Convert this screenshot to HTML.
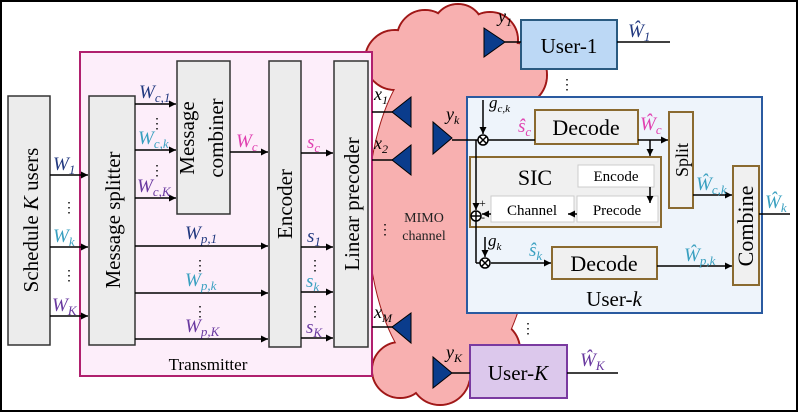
<!DOCTYPE html>
<html><head><meta charset="utf-8"><style>
html,body{margin:0;padding:0;background:#fff}
svg{display:block;font-family:"Liberation Serif","DejaVu Serif","Noto Serif CJK SC",serif}
svg text{font-family:"Liberation Serif","DejaVu Serif","Noto Serif CJK SC",serif}
.i{font-style:italic}
</style></head><body>
<svg width="798" height="414" viewBox="0 0 798 414" xmlns="http://www.w3.org/2000/svg" font-family="'Liberation Serif', 'DejaVu Serif', 'Noto Serif CJK SC', serif">
<defs>
<marker id="a" viewBox="0 0 10 10" refX="10" refY="5" markerWidth="7" markerHeight="7" orient="auto" markerUnits="userSpaceOnUse"><path d="M0,0L10,5L0,10z" fill="#000"/></marker>
</defs>
<rect x="1" y="1" width="796" height="410" fill="#fff" stroke="#000" stroke-width="2"/>

<g fill="#f8b0b0" stroke="#a01818" stroke-width="2">
<ellipse cx="450" cy="215" rx="82" ry="170"/>
<circle cx="395" cy="60" r="30"/><circle cx="425" cy="38" r="28"/><circle cx="458" cy="30" r="26"/><circle cx="490" cy="40" r="28"/><circle cx="515" cy="75" r="32"/>
<circle cx="400" cy="370" r="28"/><circle cx="440" cy="375" r="30"/><circle cx="490" cy="350" r="30"/>
</g>
<g fill="#f8b0b0">
<ellipse cx="450" cy="215" rx="82" ry="170"/>
<circle cx="395" cy="60" r="29"/><circle cx="425" cy="38" r="27"/><circle cx="458" cy="30" r="25"/><circle cx="490" cy="40" r="27"/><circle cx="515" cy="75" r="31"/>
<circle cx="400" cy="370" r="27"/><circle cx="440" cy="375" r="29"/><circle cx="490" cy="350" r="29"/>
</g>
<text x="424" y="222" font-size="14" text-anchor="middle" fill="#222">MIMO</text>
<text x="424" y="240" font-size="14" text-anchor="middle" fill="#222">channel</text>
<text x="378" y="234" font-size="14">⋮</text>

<rect x="80" y="52" width="292" height="324" fill="#fdeefa" stroke="#b0206e" stroke-width="2"/>
<text x="208" y="370" font-size="17" text-anchor="middle">Transmitter</text>
<g fill="#ececec" stroke="#333" stroke-width="1.5">
<rect x="8" y="96" width="42" height="249"/>
<rect x="89" y="96" width="46" height="249"/>
<rect x="177" y="61" width="53" height="153"/>
<rect x="269" y="61" width="32" height="286"/>
<rect x="334" y="61" width="34" height="286"/>
</g>
<g font-size="21" text-anchor="middle">
<text transform="translate(38,220) rotate(-90)">Schedule <tspan class="i">K</tspan> users</text>
<text transform="translate(120,220) rotate(-90)">Message splitter</text>
<text transform="translate(194,138) rotate(-90)">Message</text>
<text transform="translate(223,138) rotate(-90)">combiner</text>
<text transform="translate(292,204) rotate(-90)">Encoder</text>
<text transform="translate(359,204) rotate(-90)">Linear precoder</text>
</g>
<g stroke="#000" stroke-width="1.5" marker-end="url(#a)">
<line x1="50" y1="175" x2="88" y2="175"/><line x1="50" y1="247" x2="88" y2="247"/><line x1="50" y1="316" x2="88" y2="316"/>
<line x1="135" y1="104" x2="176" y2="104"/><line x1="135" y1="150" x2="176" y2="150"/><line x1="135" y1="198" x2="176" y2="198"/>
<line x1="230" y1="152" x2="268" y2="152"/><line x1="301" y1="153" x2="333" y2="153"/>
<line x1="135" y1="246" x2="268" y2="246"/><line x1="135" y1="293" x2="268" y2="293"/><line x1="135" y1="339" x2="268" y2="339"/>
<line x1="301" y1="247" x2="333" y2="247"/><line x1="301" y1="292" x2="333" y2="292"/><line x1="301" y1="338" x2="333" y2="338"/>
</g>
<g font-size="19" class="i">
<text x="53" y="170" fill="#233a80">W<tspan font-size="13" dy="4">1</tspan></text>
<text x="53" y="242" fill="#3aa0c0">W<tspan font-size="13" dy="4">k</tspan></text>
<text x="52" y="311" fill="#6a3aa0">W<tspan font-size="13" dy="4">K</tspan></text>
<text x="139" y="98" fill="#233a80">W<tspan font-size="13" dy="4">c,1</tspan></text>
<text x="138" y="144" fill="#3aa0c0">W<tspan font-size="13" dy="4">c,k</tspan></text>
<text x="137" y="192" fill="#6a3aa0">W<tspan font-size="13" dy="4">c,K</tspan></text>
<text x="236" y="147" fill="#e040b0">W<tspan font-size="13" dy="4">c</tspan></text>
<text x="307" y="148" fill="#e040b0">s<tspan font-size="13" dy="4">c</tspan></text>
<text x="185" y="239" fill="#233a80">W<tspan font-size="13" dy="4">p,1</tspan></text>
<text x="185" y="286" fill="#3aa0c0">W<tspan font-size="13" dy="4">p,k</tspan></text>
<text x="185" y="332" fill="#6a3aa0">W<tspan font-size="13" dy="4">p,K</tspan></text>
<text x="307" y="242" fill="#233a80">s<tspan font-size="13" dy="4">1</tspan></text>
<text x="306" y="287" fill="#3aa0c0">s<tspan font-size="13" dy="4">k</tspan></text>
<text x="306" y="333" fill="#6a3aa0">s<tspan font-size="13" dy="4">K</tspan></text>
</g>
<g font-size="14">
<text x="62" y="212">⋮</text><text x="62" y="280">⋮</text>
<text x="150" y="128">⋮</text><text x="150" y="175">⋮</text>
<text x="193" y="270">⋮</text><text x="193" y="316">⋮</text>
<text x="308" y="270">⋮</text><text x="308" y="316">⋮</text>
</g>

<g stroke="#000" stroke-width="1.5"><line x1="372" y1="112" x2="393" y2="112"/><line x1="372" y1="160" x2="393" y2="160"/><line x1="372" y1="327" x2="393" y2="327"/></g>
<g fill="#0a3c8c" stroke="#000" stroke-width="1">
<path d="M392,112L411,97L411,127z"/><path d="M392,160L411,145L411,175z"/><path d="M392,327L411,313L411,343z"/>
</g>
<g font-size="18" class="i"><text x="374" y="100">x<tspan font-size="12" dy="4">1</tspan></text><text x="374" y="149">x<tspan font-size="12" dy="4">2</tspan></text><text x="374" y="318">x<tspan font-size="12" dy="4">M</tspan></text></g>

<rect x="521" y="20" width="96" height="49" fill="#bcd8f5" stroke="#2a5a80" stroke-width="2"/>
<text x="569" y="53" font-size="21" text-anchor="middle">User-1</text>
<line x1="505" y1="42" x2="521" y2="42" stroke="#000" stroke-width="1.5"/>
<path d="M505,42L484,28L484,57z" fill="#0a3c8c" stroke="#000"/>
<text x="498" y="22" font-size="18" class="i">y<tspan font-size="12" dy="4">1</tspan></text>
<line x1="617" y1="42" x2="670" y2="42" stroke="#000" stroke-width="1.5"/>
<text x="628" y="37" font-size="19" class="i" fill="#233a80">Ŵ<tspan font-size="13" dy="4">1</tspan></text>
<text x="560" y="89" font-size="14">⋮</text>

<rect x="467" y="97" width="295" height="216" fill="#eef4fb" stroke="#2a5aa0" stroke-width="2"/>
<text x="614" y="306" font-size="21" text-anchor="middle">User-<tspan class="i">k</tspan></text>
<path d="M452,138L433,122L433,154z" fill="#0a3c8c" stroke="#000"/>
<text x="446" y="120" font-size="18" class="i">y<tspan font-size="12" dy="4">k</tspan></text>
<rect x="470" y="157" width="191" height="70" fill="#f0f0f0" stroke="#8a6a30" stroke-width="2"/>
<text x="535" y="185" font-size="22" text-anchor="middle">SIC</text>
<g fill="#fff" stroke="#ccc" stroke-width="1">
<rect x="578" y="165" width="76" height="22"/><rect x="577" y="196" width="81" height="26"/><rect x="491" y="196" width="83" height="26"/>
</g>
<g font-size="15" text-anchor="middle"><text x="616" y="181">Encode</text><text x="617" y="215">Precode</text><text x="532" y="215">Channel</text></g>
<g fill="#f0f0f0" stroke="#8a6a30" stroke-width="2">
<rect x="535" y="110" width="103" height="34"/><rect x="552" y="247" width="105" height="32"/>
<rect x="669" y="112" width="24" height="96"/><rect x="733" y="166" width="26" height="119"/>
</g>
<g font-size="22" text-anchor="middle">
<text x="586" y="135">Decode</text><text x="604" y="271">Decode</text>
<text transform="translate(688,160) rotate(-90)" font-size="18">Split</text>
<text transform="translate(753,226) rotate(-90)">Combine</text>
</g>
<g stroke="#000" stroke-width="1.5" fill="none">
<line x1="452" y1="140" x2="478" y2="140"/>
<line x1="488" y1="140" x2="535" y2="140"/>
<line x1="476" y1="140" x2="476" y2="210" marker-end="url(#a)"/>
<line x1="476" y1="221" x2="476" y2="263"/>
<line x1="476" y1="263" x2="480" y2="263"/>
<line x1="491" y1="263" x2="551" y2="263" marker-end="url(#a)"/>
<line x1="483" y1="100" x2="483" y2="134" marker-end="url(#a)"/>
<line x1="485" y1="237" x2="485" y2="257" marker-end="url(#a)"/>
<line x1="638" y1="140" x2="668" y2="140" marker-end="url(#a)"/>
<line x1="650" y1="140" x2="650" y2="156" marker-end="url(#a)"/>
<line x1="650" y1="187" x2="650" y2="203" marker-end="url(#a)"/>
<line x1="577" y1="214" x2="568" y2="214" marker-end="url(#a)"/>
<line x1="491" y1="214" x2="482" y2="214" marker-end="url(#a)"/>
<line x1="693" y1="195" x2="732" y2="195" marker-end="url(#a)"/>
<line x1="657" y1="266" x2="732" y2="266" marker-end="url(#a)"/>
<line x1="759" y1="214" x2="790" y2="214"/>
<circle cx="483" cy="140" r="5" fill="#fff"/><path d="M479.5,136.5l7,7M486.5,136.5l-7,7"/>
<circle cx="485" cy="263" r="5" fill="#fff"/><path d="M481.5,259.5l7,7M488.5,259.5l-7,7"/>
<circle cx="476" cy="216" r="5" fill="#fff"/><path d="M471,216h10M476,211v10"/>
</g>
<text x="479" y="207" font-size="12">+</text><text x="481" y="221" font-size="12">-</text>
<g font-size="17" class="i">
<text x="489" y="108">g<tspan font-size="11" dy="4">c,k</tspan></text>
<text x="488" y="246">g<tspan font-size="11" dy="4">k</tspan></text>
</g>
<g font-size="19" class="i">
<text x="518" y="132" fill="#e040b0">ŝ<tspan font-size="13" dy="4">c</tspan></text>
<text x="640" y="130" fill="#e040b0">Ŵ<tspan font-size="13" dy="4">c</tspan></text>
<text x="696" y="190" fill="#3aa0c0">Ŵ<tspan font-size="13" dy="4">c,k</tspan></text>
<text x="529" y="256" fill="#3aa0c0">ŝ<tspan font-size="13" dy="4">k</tspan></text>
<text x="684" y="261" fill="#3aa0c0">Ŵ<tspan font-size="13" dy="4">p,k</tspan></text>
<text x="765" y="208" fill="#3aa0c0">Ŵ<tspan font-size="13" dy="4">k</tspan></text>
</g>

<text x="521" y="333" font-size="14">⋮</text>
<rect x="470" y="345" width="97" height="53" fill="#dcc8ec" stroke="#7a3aa0" stroke-width="2"/>
<text x="518" y="380" font-size="21" text-anchor="middle">User-<tspan class="i">K</tspan></text>
<line x1="452" y1="373" x2="470" y2="373" stroke="#000" stroke-width="1.5"/>
<path d="M452,373L433,357L433,388z" fill="#0a3c8c" stroke="#000"/>
<text x="446" y="358" font-size="18" class="i">y<tspan font-size="12" dy="4">K</tspan></text>
<line x1="567" y1="373" x2="618" y2="373" stroke="#000" stroke-width="1.5"/>
<text x="580" y="366" font-size="19" class="i" fill="#6a3aa0">Ŵ<tspan font-size="13" dy="4">K</tspan></text>
</svg>
</body></html>
